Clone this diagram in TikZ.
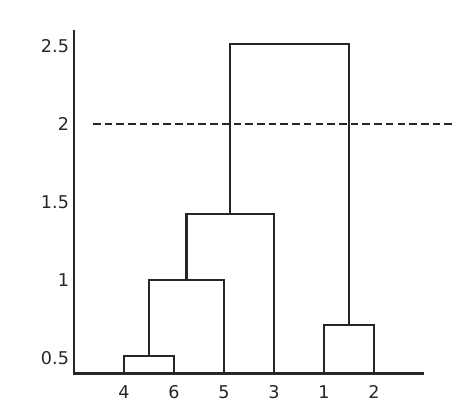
\documentclass[tikz,border=0pt]{standalone}
\usepackage{fontspec}
\setmainfont{DejaVu Sans}

\begin{document}
\begin{tikzpicture}[x=1.5cm,y=4.68cm,line width=1.8pt,black!85,
    tick/.style={anchor=base east,inner sep=0pt,font=\fontsize{15}{18}\selectfont},
    leaf/.style={anchor=base,inner sep=0pt,font=\fontsize{15}{18}\selectfont}]

  \useasboundingbox (-1.48,0.114) rectangle (8,2.794);

  % Axes
  \coordinate (o) at (0,0.4);
  \coordinate (ytop) at (0,2.6);
  \coordinate (xend) at (7,0.4);
  \draw (ytop) -- (o) -- (xend);

  % Height labels
  \foreach \v/\n in {0.5/a,1/b,1.5/c,2/d,2.5/e} {
    \node[tick] (t\n) at (-0.08,\v-0.042) {\v};
  }

  % Leaves and their labels
  \foreach \i/\leaf in {1/4,2/6,3/5,4/3,5/1,6/2} {
    \coordinate (l\leaf) at (\i,0.4);
    \node[leaf] (n\leaf) at (\i,0.242) {\leaf};
  }

  % Merge points
  \coordinate (m46) at (1.5,0.51);
  \coordinate (m465) at (2.25,1.0);
  \coordinate (m4653) at (3.125,1.42);
  \coordinate (m12) at (5.5,0.71);
  \coordinate (mtop) at (4.3125,2.51);

  % Dendrogram links
  \draw (l4) |- (m46) -| (l6);
  \draw (m46) |- (m465) -| (l5);
  \draw (m465) |- (m4653) -| (l3);
  \draw (l1) |- (m12) -| (l2);
  \draw (m4653) |- (mtop) -| (m12);

  % Cut at height 2
  \coordinate (cutl) at (0.38,2);
  \coordinate (cutr) at (7.58,2);
  \draw[dash pattern=on 6.5pt off 3.5pt] (cutl) -- (cutr);

\end{tikzpicture}
\end{document}
